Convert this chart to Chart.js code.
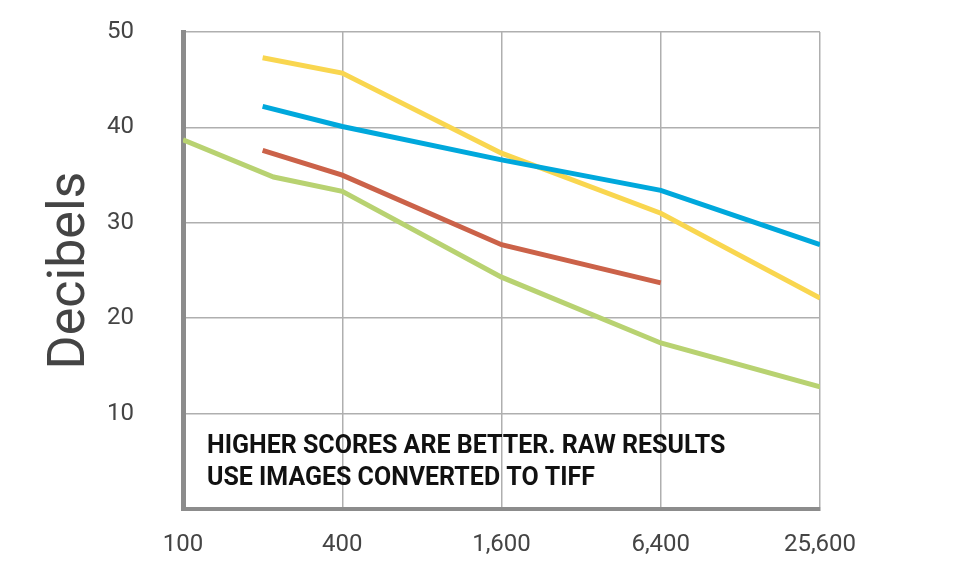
<!DOCTYPE html>
<html>
<head>
<meta charset="utf-8">
<script src="https://cdn.jsdelivr.net/npm/chart.js@4"></script>
<style>
  html, body { margin: 0; padding: 0; background: #fff; }
  #wrap { width: 970px; height: 573px; }
</style>
</head>
<body>
<div id="wrap"><canvas id="chart" width="970" height="573"></canvas></div>
<script>
// ISO values on the x axis
var xTicks = [100, 400, 1600, 6400, 25600];
var isoYellow = [200, 400, 1600, 6400, 25600];
var isoBlue = [200, 400, 1600, 6400, 25600];
var isoRed = [200, 400, 1600, 6400];
var isoGreen = [100, 220, 400, 1600, 6400, 25600];

// decibels
var yellowVals = [47.3, 45.7, 37.3, 31.0, 22.1];
var blueVals = [42.2, 40.1, 36.6, 33.4, 27.7];
var redVals = [37.6, 35.0, 27.7, 23.7];
var greenVals = [38.7, 34.8, 33.3, 24.3, 17.4, 12.8];

var yTicks = [10, 20, 30, 40, 50];
var noteLines = ['HIGHER SCORES ARE BETTER. RAW RESULTS', 'USE IMAGES CONVERTED TO TIFF'];

function pts(xs, ys) {
  return xs.map(function(x, i) { return { x: x, y: ys[i] }; });
}

function line(label, xs, ys, color) {
  return {
    label: label,
    data: pts(xs, ys),
    borderColor: color,
    backgroundColor: color,
    borderWidth: 5,
    pointRadius: 0,
    tension: 0,
    fill: false
  };
}

// note drawn inside the plot
var notePlugin = {
  id: 'note',
  afterDatasetsDraw: function(chart) {
    var ctx = chart.ctx;
    var left = chart.chartArea.left;
    ctx.save();
    ctx.fillStyle = '#111';
    ctx.font = 'bold 25px Roboto';
    ctx.textBaseline = 'alphabetic';
    ctx.textAlign = 'left';
    ctx.fillText(noteLines[0], left + 24, 453, 523);
    ctx.fillText(noteLines[1], left + 24, 485, 388);
    ctx.restore();
  }
};

var ctx = document.getElementById('chart').getContext('2d');
var chart = new Chart(ctx, {
  type: 'line',
  data: {
    datasets: [
      line('Green', isoGreen, greenVals, '#B8D271'),
      line('Red', isoRed, redVals, '#CB6249'),
      line('Blue', isoBlue, blueVals, '#00A8DC'),
      line('Yellow', isoYellow, yellowVals, '#F9D64F')
    ]
  },
  plugins: [notePlugin],
  options: {
    responsive: false,
    animation: false,
    layout: { padding: { top: 32, right: 150, left: 0, bottom: 0 } },
    plugins: {
      legend: { display: false },
      tooltip: { enabled: false }
    },
    scales: {
      x: {
        type: 'logarithmic',
        min: 100,
        max: 25600,
        afterBuildTicks: function(axis) {
          axis.ticks = xTicks.map(function(v) { return { value: v }; });
        },
        afterFit: function(axis) { axis.height = 64; },
        ticks: {
          autoSkip: false,
          maxRotation: 0,
          padding: 22,
          color: '#444',
          font: { family: 'Roboto', size: 24 },
          callback: function(v) { return Number(v).toLocaleString('en-US'); }
        },
        grid: { color: '#AFAFAF', lineWidth: 1.5, drawTicks: false },
        border: { color: '#8C8C8C', width: 4 }
      },
      y: {
        min: 0,
        max: 50,
        afterBuildTicks: function(axis) {
          axis.ticks = yTicks.map(function(v) { return { value: v }; });
        },
        afterFit: function(axis) {
          axis.width = 183;
          axis.paddingTop = 0;
          axis.paddingBottom = 0;
        },
        ticks: {
          padding: 49,
          color: '#444',
          font: { family: 'Roboto', size: 24 }
        },
        title: {
          display: true,
          text: 'Decibels',
          color: '#444',
          font: { family: 'Roboto', size: 52 },
          padding: { top: 40, bottom: 0 }
        },
        grid: { color: '#AFAFAF', lineWidth: 1.5, drawTicks: false },
        border: { color: '#8C8C8C', width: 5 }
      }
    }
  }
});
</script>
</body>
</html>
